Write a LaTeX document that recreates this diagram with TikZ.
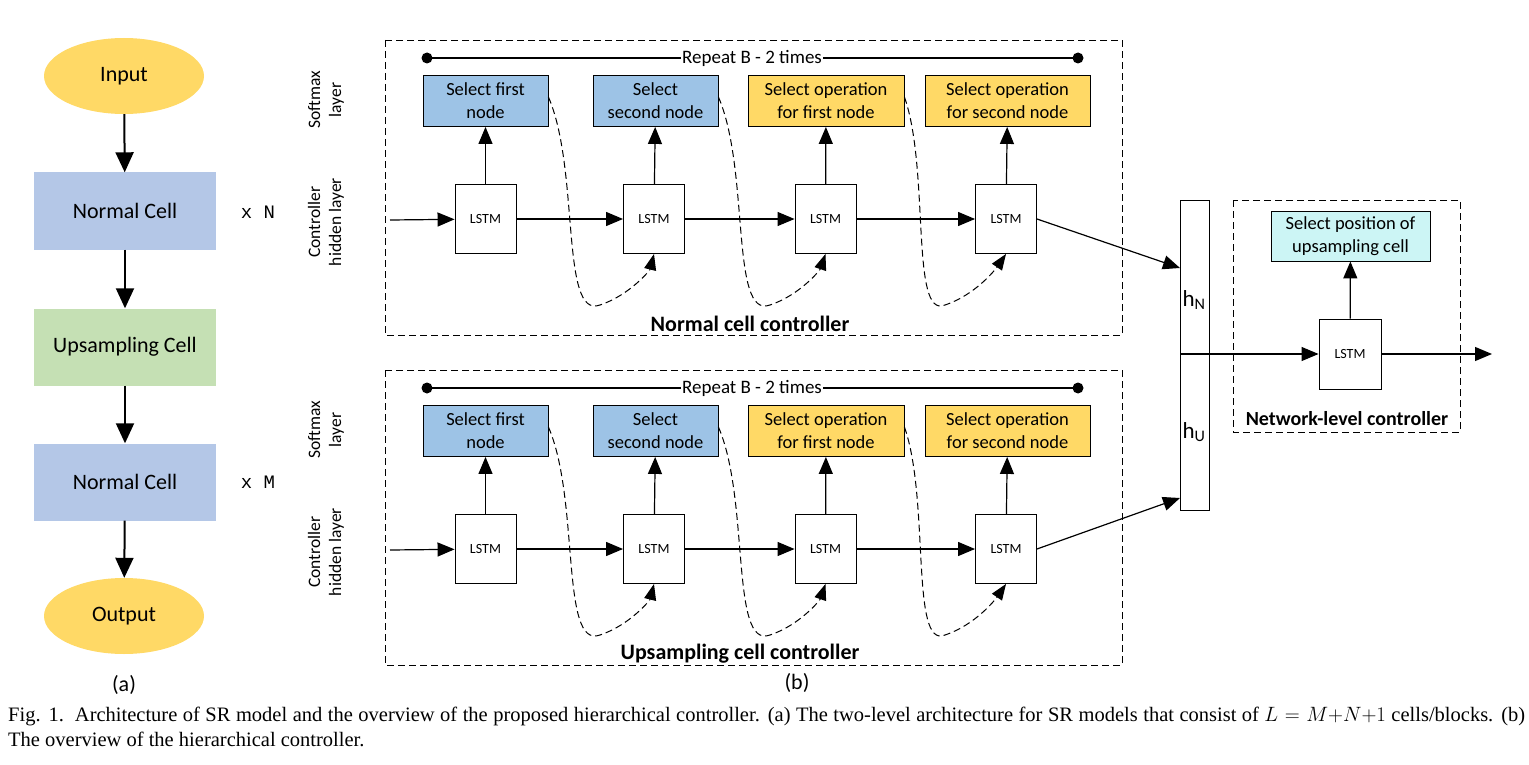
\documentclass[tikz,border=0pt]{standalone}
\usepackage{fontspec}
\setmainfont{Liberation Serif}
\newfontfamily\calf{Carlito}
\newfontfamily\monof{Liberation Mono}
\usetikzlibrary{arrows.meta,shapes.geometric}
\definecolor{cblue}{HTML}{9DC3E6}
\definecolor{cyel}{HTML}{FFD966}
\definecolor{ccell}{HTML}{B4C7E7}
\definecolor{cgreen}{HTML}{C5E0B4}
\definecolor{ccyan}{HTML}{CCF5F5}
\begin{document}
\begin{tikzpicture}[x=1pt,y=-1pt,
  ar/.style={-{Triangle[length=20pt,width=18pt]},line width=2pt},
  ar2/.style={-{Triangle[length=17pt,width=14pt]},line width=1.2pt},
  cellbox/.style={draw=none,minimum width=182pt,minimum height=77pt,font=\calf\fontsize{22}{26}\selectfont},
  ell/.style={ellipse,fill=cyel,minimum width=160pt,minimum height=76pt,font=\calf\fontsize{22}{26}\selectfont},
  sel/.style={draw,line width=0.9pt,minimum height=51pt,align=center,font=\calf\fontsize{18.5}{23}\selectfont},
  lstm/.style={draw,line width=0.9pt,fill=white,minimum width=61pt,minimum height=69pt,font=\calf\fontsize{14}{16}\selectfont},
  dbox/.style={draw,dashed,line width=0.8pt,dash pattern=on 7pt off 4pt},
  side/.style={rotate=90,align=center,font=\calf\fontsize{17.5}{21}\selectfont},
  dcurve/.style={dashed,line width=1pt,dash pattern=on 7pt off 4pt,-{Triangle[length=16pt,width=12pt]}},
  ttl/.style={font=\calf\bfseries\fontsize{22}{26}\selectfont}
]
\useasboundingbox (0,0) rectangle (1529,765);
% (a)
\node[ell] (in) at (124,76) {Input};
\node[cellbox,fill=ccell] (n1) at (125,211) {Normal Cell};
\node[cellbox,fill=cgreen] (up) at (125,347) {Upsampling Cell};
\node[cellbox,fill=ccell] (n2) at (125,482) {Normal Cell};
\node[ell] (out) at (124,616) {Output};
\draw[ar] (in) -- (n1);
\draw[ar] (n1) -- (up);
\draw[ar] (up) -- (n2);
\draw[ar] (n2) -- (out);
\node[font=\monof\fontsize{19}{22}\selectfont] (xn) at (258,212) {x N};
\node[font=\monof\fontsize{19}{22}\selectfont] (xm) at (258,482) {x M};
\node[font=\calf\fontsize{22}{26}\selectfont] (la) at (124,685) {(a)};
\node[font=\calf\fontsize{22}{26}\selectfont] (lb) at (797,683) {(b)};
% controllers
\foreach \o/\nm/\lab/\tx in {0/T/Normal cell controller/750, 330/B/Upsampling cell controller/740}{
  \draw[dbox] (385,40+\o) rectangle (1122,335+\o);
  \node[ttl] (lab\nm) at (\tx,324+\o) {\lab};
  \node[side] (sm\nm) at (326,100+\o) {Softmax\\layer};
  \node[side] (ch\nm) at (326,222+\o) {Controller\\hidden layer};
  \coordinate (r1\nm) at (427,58+\o);
  \coordinate (r2\nm) at (1078,58+\o);
  \node[font=\calf\fontsize{19}{22}\selectfont,inner sep=1pt] (rp\nm) at (752,58+\o) {Repeat B - 2 times};
  \draw[line width=1.2pt] (r1\nm) -- (rp\nm.west) (rp\nm.east) -- (r2\nm);
  \fill (r1\nm) circle (5.5pt) (r2\nm) circle (5.5pt);
  \node[sel,fill=cblue,minimum width=125pt] (s1\nm) at (485.5,101+\o) {Select first\\node};
  \node[sel,fill=cblue,minimum width=125pt] (s2\nm) at (655.5,101+\o) {Select\\second node};
  \node[sel,fill=cyel,minimum width=156pt] (s3\nm) at (826,101+\o) {Select operation\\for first node};
  \node[sel,fill=cyel,minimum width=165pt] (s4\nm) at (1007.5,101+\o) {Select operation\\for second node};
  \node[lstm] (l1\nm) at (485.5,219+\o) {LSTM};
  \node[lstm] (l2\nm) at (654,219+\o) {LSTM};
  \node[lstm] (l3\nm) at (825.5,219+\o) {LSTM};
  \node[lstm] (l4\nm) at (1006,219+\o) {LSTM};
  \coordinate (st\nm) at (390,220+\o);
  \draw[ar2] (st\nm) -- (l1\nm);
  \draw[ar2] (l1\nm) -- (l2\nm);
  \draw[ar2] (l2\nm) -- (l3\nm);
  \draw[ar2] (l3\nm) -- (l4\nm);
  \foreach \i in {1,2,3,4}{\draw[ar2] (l\i\nm) -- (s\i\nm);}
  \draw[dcurve] (s1\nm.north east) ++(0,22) .. controls (580,170+\o) and (560,320+\o) .. (600,305+\o) .. controls (630,295+\o) and (650,270+\o) .. (l2\nm.south);
  \draw[dcurve] (s2\nm.north east) ++(0,22) .. controls (750,170+\o) and (730,320+\o) .. (770,305+\o) .. controls (800,295+\o) and (820,270+\o) .. (l3\nm.south);
  \draw[dcurve] (s3\nm.north east) ++(0,22) .. controls (930,170+\o) and (910,320+\o) .. (945,305+\o) .. controls (975,295+\o) and (995,270+\o) .. (l4\nm.south);
}
% h column
\draw[line width=0.9pt] (1180,200) rectangle (1209,510);
\node[font=\calf\fontsize{23}{26}\selectfont] (hn) at (1194,300) {h\textsubscript{N}};
\node[font=\calf\fontsize{23}{26}\selectfont] (hu) at (1194,432) {h\textsubscript{U}};
\coordinate (hN) at (1180,268);
\coordinate (hU) at (1180,498);
\coordinate (hs) at (1180,354);
\draw[ar2] (l4T.east) -- (hN);
\draw[ar2] (l4B.east) -- (hU);
% network-level
\draw[dbox] (1233,200) rectangle (1460,432);
\node[sel,fill=ccyan,minimum width=159pt,minimum height=50pt] (sp) at (1350.5,236) {Select position of\\upsampling cell};
\node[lstm,minimum width=62pt,minimum height=70pt] (ln) at (1350,354) {LSTM};
\node[font=\calf\bfseries\fontsize{20}{24}\selectfont] (labN) at (1347,419) {Network-level controller};
\draw[ar2] (hs) -- (ln);
\draw[ar2] (ln) -- (sp);
\coordinate (oe) at (1492,354);
\draw[ar2] (ln) -- (oe);
% caption
\node[anchor=north west,text width=1517pt,align=justify,inner sep=0pt,font=\fontsize{20.5}{25}\selectfont] (cap) at (8,707)
{Fig. 1.\ \ Architecture of SR model and the overview of the proposed hierarchical controller. (a) The two-level architecture for SR models that consist of $L=M{+}N{+}1$ cells/blocks. (b) The overview of the hierarchical controller.};
\end{tikzpicture}
\end{document}
